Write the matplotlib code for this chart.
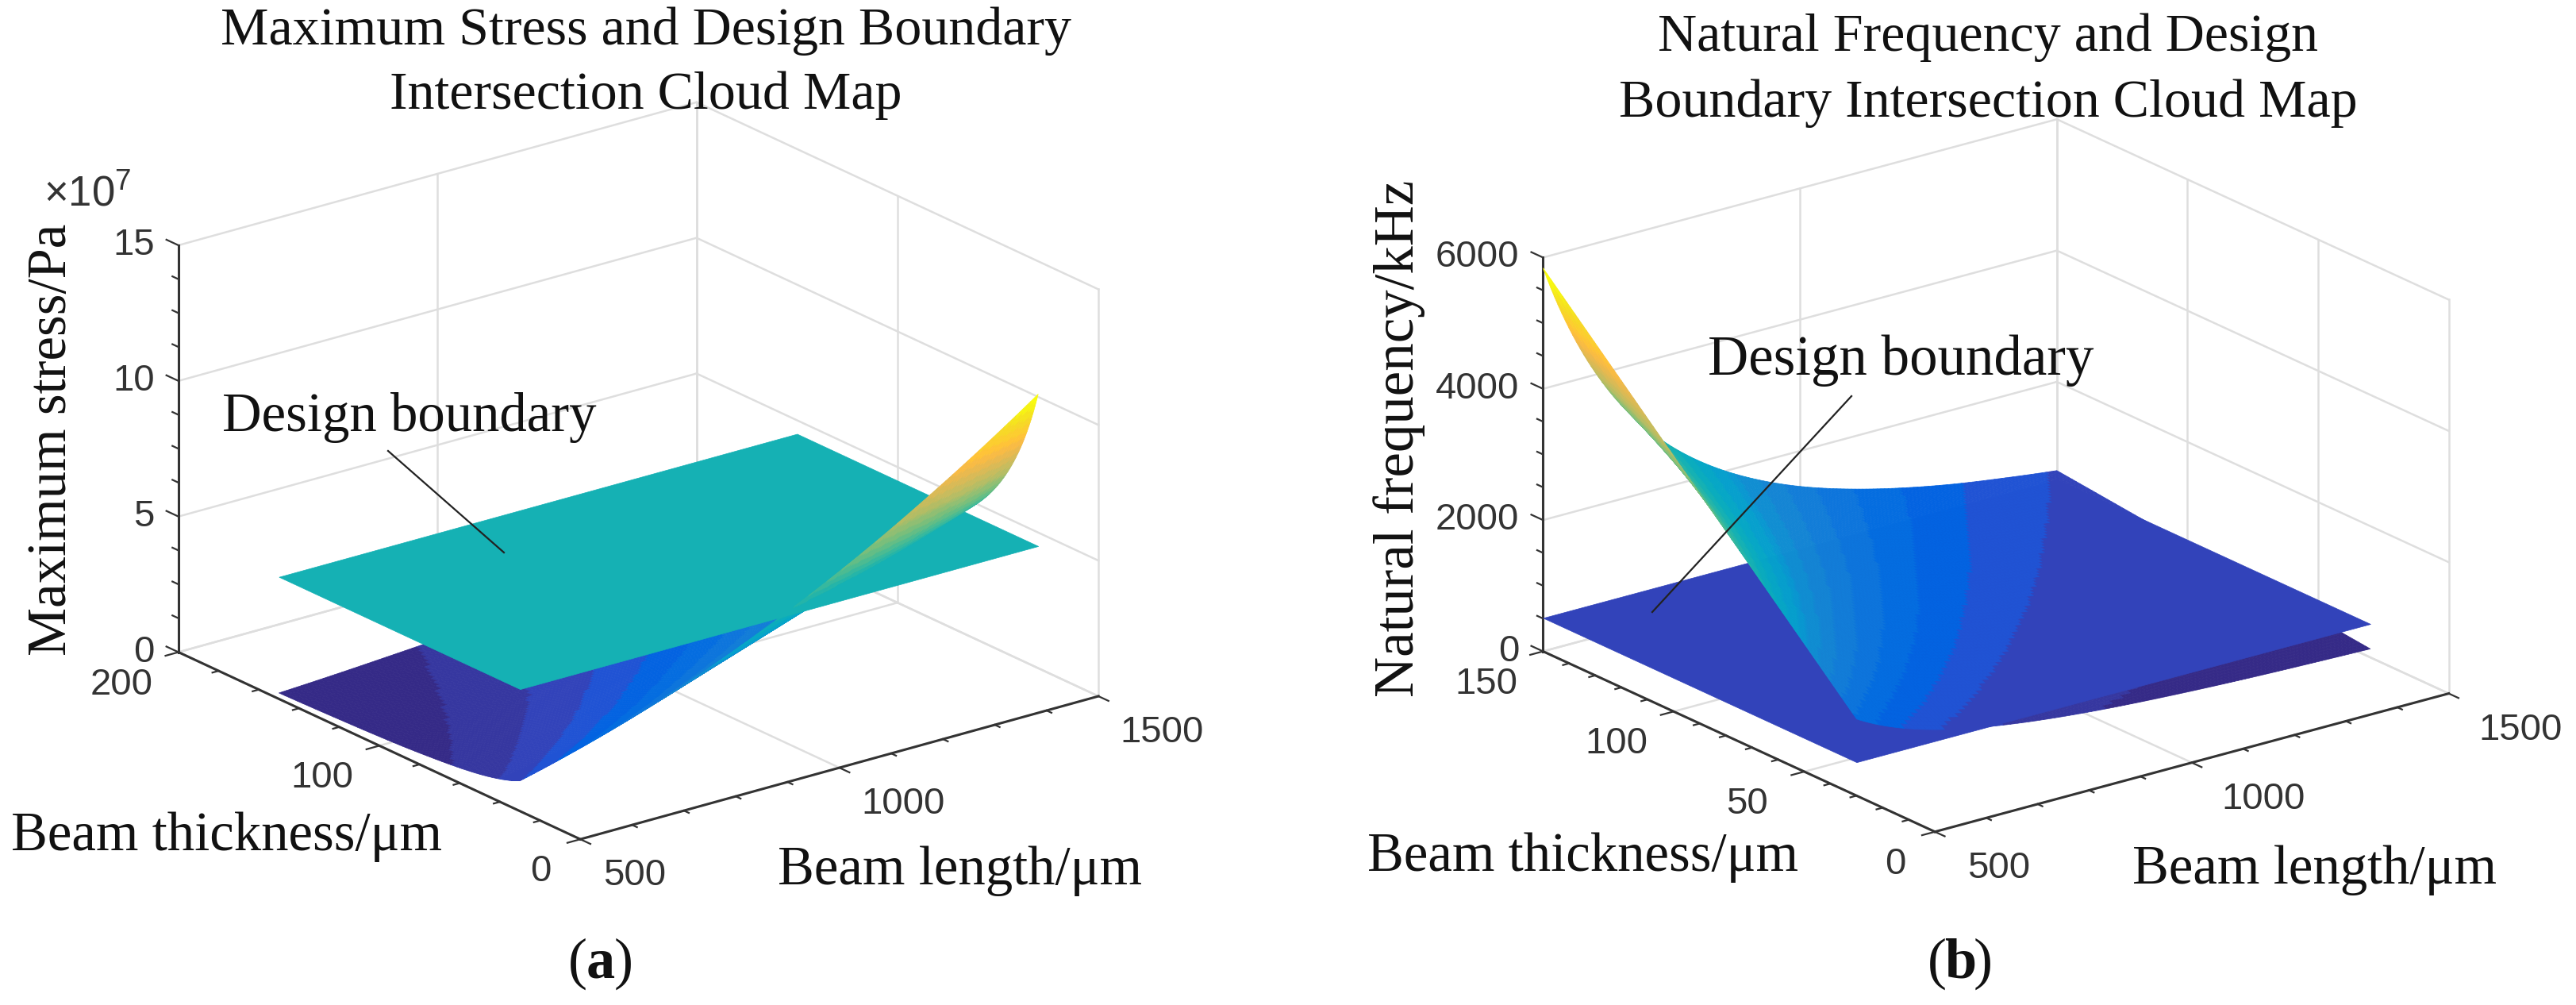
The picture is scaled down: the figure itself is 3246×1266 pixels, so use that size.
import numpy as np
import matplotlib
matplotlib.use("Agg")
import matplotlib.pyplot as plt
from matplotlib.colors import ListedColormap, Normalize
from matplotlib.lines import Line2D
from mpl_toolkits.mplot3d import proj3d
from mpl_toolkits.mplot3d.art3d import Poly3DCollection

plt.rcParams['mathtext.default'] = 'regular'

SERIF = 'Liberation Serif'
SANS = 'Liberation Sans'

# beam length in um, shared by both panels
length = [500, 600, 700, 800, 900, 1000, 1100, 1200, 1300, 1400, 1500]

# panel a: maximum stress, x10^7 Pa, one row per beam thickness
thick_a = [30, 35, 40, 50, 60, 75, 90, 120, 150]
stress = [
    [1.12, 1.62, 2.20, 2.87, 3.64, 4.49, 5.43, 6.46, 7.59, 8.80, 10.10],
    [0.96, 1.39, 1.89, 2.46, 3.12, 3.85, 4.66, 5.54, 6.50, 7.54, 8.66],
    [0.84, 1.21, 1.65, 2.15, 2.73, 3.37, 4.08, 4.85, 5.69, 6.60, 7.58],
    [0.67, 0.97, 1.32, 1.72, 2.18, 2.69, 3.26, 3.88, 4.55, 5.28, 6.06],
    [0.56, 0.81, 1.10, 1.43, 1.82, 2.24, 2.72, 3.23, 3.79, 4.40, 5.05],
    [0.45, 0.65, 0.88, 1.15, 1.45, 1.79, 2.17, 2.59, 3.03, 3.52, 4.04],
    [0.37, 0.54, 0.73, 0.96, 1.21, 1.50, 1.81, 2.16, 2.53, 2.94, 3.37],
    [0.28, 0.40, 0.55, 0.72, 0.91, 1.12, 1.36, 1.62, 1.90, 2.20, 2.53],
    [0.22, 0.32, 0.44, 0.57, 0.73, 0.90, 1.09, 1.29, 1.52, 1.76, 2.02],
]
boundary_a = 4.5

# panel b: natural frequency, kHz
thick_b = [30, 45, 60, 75, 90, 105, 120, 135, 150]
freq = [
    [1168, 811, 596, 457, 361, 292, 242, 203, 173, 150, 130],
    [1752, 1217, 894, 685, 541, 438, 362, 305, 259, 224, 195],
    [2336, 1622, 1191, 913, 722, 584, 483, 406, 346, 299, 259],
    [2920, 2027, 1489, 1142, 902, 730, 603, 508, 432, 374, 324],
    [3504, 2433, 1787, 1370, 1083, 876, 725, 610, 519, 449, 389],
    [4088, 2839, 2085, 1598, 1263, 1022, 846, 711, 605, 523, 454],
    [4672, 3244, 2383, 1827, 1444, 1168, 967, 813, 691, 598, 519],
    [5256, 3650, 2681, 2055, 1624, 1314, 1088, 915, 778, 673, 584],
    [5840, 4056, 2978, 2283, 1805, 1460, 1209, 1016, 864, 748, 648],
]
boundary_b = 510

# 64 levels like the matlab default, the bands on the surface come from this
parula = ListedColormap([
    (0.2081, 0.1663, 0.5292), (0.2123, 0.2138, 0.6270), (0.1959, 0.2645, 0.7279),
    (0.1253, 0.3242, 0.8303), (0.0117, 0.3875, 0.8820), (0.0165, 0.4266, 0.8786),
    (0.0498, 0.4586, 0.8641), (0.0723, 0.4887, 0.8467), (0.0793, 0.5200, 0.8312),
    (0.0641, 0.5570, 0.8240), (0.0343, 0.5966, 0.8199), (0.0239, 0.6287, 0.8038),
    (0.0228, 0.6535, 0.7768), (0.0384, 0.6743, 0.7436), (0.0843, 0.6928, 0.7062),
    (0.1453, 0.7098, 0.6646), (0.2178, 0.7250, 0.6193), (0.3022, 0.7376, 0.5712),
    (0.3953, 0.7459, 0.5244), (0.4871, 0.7491, 0.4840), (0.5709, 0.7485, 0.4494),
    (0.6473, 0.7456, 0.4188), (0.7184, 0.7411, 0.3905), (0.7858, 0.7356, 0.3633),
    (0.8507, 0.7299, 0.3360), (0.9139, 0.7258, 0.3063), (0.9739, 0.7314, 0.2666),
    (0.9990, 0.7653, 0.2164), (0.9880, 0.8066, 0.1794), (0.9697, 0.8481, 0.1475),
    (0.9589, 0.8949, 0.1132), (0.9661, 0.9514, 0.0755), (0.9763, 0.9831, 0.0538),
]).resampled(64)

W, H = 3246, 1266
fig = plt.figure(figsize=(W / 100, H / 100), dpi=100)


def fx(px):
    return px / W


def fy(py):
    return 1 - py / H


def clip_poly(poly, h, keep_above):
    # cut one facet at the boundary height
    out = []
    for i in range(len(poly)):
        a, b = poly[i], poly[(i + 1) % len(poly)]
        ina = (a[2] >= h) == keep_above
        inb = (b[2] >= h) == keep_above
        if ina:
            out.append(a)
        if ina != inb:
            t = (h - a[2]) / (b[2] - a[2])
            out.append(tuple(a[k] + t * (b[k] - a[k]) for k in range(3)))
    return out


def fine_mesh(xs, ys, zs, nx=14, ny=10):
    # same idea as matlab "shading interp", the table itself stays as read
    xf = np.concatenate([np.linspace(xs[i], xs[i + 1], nx, endpoint=False) for i in range(len(xs) - 1)] + [[xs[-1]]])
    yf = np.concatenate([np.linspace(ys[i], ys[i + 1], ny, endpoint=False) for i in range(len(ys) - 1)] + [[ys[-1]]])
    lz = np.log(np.array(zs, dtype=float))
    rows = np.array([np.interp(np.log(xf), np.log(xs), r) for r in lz])
    zf = np.array([np.interp(np.log(yf), np.log(ys), rows[:, j]) for j in range(len(xf))]).T
    return xf, yf, np.exp(zf)


def add_surface(ax, xs, ys, zs, h):
    xf, yf, zf = fine_mesh(xs, ys, zs)
    norm = Normalize(np.min(zs), np.max(zs))
    groups = {False: ([], []), True: ([], [])}
    for i in range(len(yf) - 1):
        for j in range(len(xf) - 1):
            quad = [(xf[j], yf[i], zf[i, j]), (xf[j + 1], yf[i], zf[i, j + 1]),
                    (xf[j + 1], yf[i + 1], zf[i + 1, j + 1]), (xf[j], yf[i + 1], zf[i + 1, j])]
            c = parula(norm(np.mean([p[2] for p in quad])))
            for above in (False, True):
                part = clip_poly(quad, h, above)
                if len(part) >= 3:
                    groups[above][0].append(part)
                    groups[above][1].append(c)
    for above, z in ((False, 3), (True, 5)):
        polys, cols = groups[above]
        coll = Poly3DCollection(polys, facecolors=cols, edgecolors=cols, linewidths=0.5, zorder=z)
        ax.add_collection3d(coll)
    plane = [[(xs[0], ys[0], h), (xs[-1], ys[0], h), (xs[-1], ys[-1], h), (xs[0], ys[-1], h)]]
    pc = parula(norm(h))
    ax.add_collection3d(Poly3DCollection(plane, facecolors=[pc], edgecolors=[pc], linewidths=0.5, zorder=4))


def label3d(ax, x, y, z, s, dx, dy, size=34, ha='center'):
    px, py, _ = proj3d.proj_transform(x, y, z, ax.get_proj())
    ax.annotate(s, xy=(px, py), xytext=(dx, dy), textcoords='offset pixels',
                annotation_clip=False, family=SANS, fontsize=size, color='#333333',
                ha=ha, va='center')


def make_panel(center, aspect, elev, azim, xt, yt, zt, xm, ym, zm, ylim, zlim):
    norm = np.linalg.norm(aspect)
    side = 1.85 * norm / (1.8294640721620434 * 25 / 24)
    left = center[0] - 0.95 / 1.85 * side
    bottom = center[1] + 0.95 / 1.85 * side
    ax = fig.add_axes([fx(left), fy(bottom), side / W, side / H], projection='3d',
                      proj_type='ortho', computed_zorder=False)
    ax.set_box_aspect(aspect)
    ax.view_init(elev=elev, azim=azim)
    ax.set_xlim(xt[0], xt[-1])
    ax.set_ylim(ylim)
    ax.set_zlim(zlim)
    ax.set_axis_off()
    ax.patch.set_visible(False)

    x0, x1 = xt[0], xt[-1]
    y0, y1 = ylim
    z0, z1 = zlim
    grey = dict(color='#dedede', lw=1.8, zorder=1)
    for x in xt:
        ax.plot([x, x], [y0, y1], [z0, z0], **grey)
        ax.plot([x, x], [y1, y1], [z0, z1], **grey)
    for y in yt:
        ax.plot([x0, x1], [y, y], [z0, z0], **grey)
        ax.plot([x1, x1], [y0 if y == y0 else y, y], [z0, z1], **grey)
    for z in zt:
        ax.plot([x0, x1], [y1, y1], [z, z], **grey)
        ax.plot([x1, x1], [y0, y1], [z, z], **grey)

    dark = dict(color='#333333', lw=2.2, zorder=2)
    ax.plot([x0, x1], [y0, y0], [z0, z0], **dark)
    ax.plot([x0, x0], [y0, y1], [z0, z0], **dark)
    ax.plot([x0, x0], [y1, y1], [z0, z1], **dark)
    thin = dict(color='#333333', lw=1.6, zorder=2)
    for t in xm:
        f = 0.025 if t in xt else 0.012
        ax.plot([t, t], [y0, y0 - f * (y1 - y0)], [z0, z0], **thin)
    for t in ym:
        f = 0.025 if t in yt else 0.012
        ax.plot([x0, x0 - f * (x1 - x0)], [t, t], [z0, z0], **thin)
    for t in zm:
        f = 0.03 if t in zt else 0.015
        ax.plot([x0, x0], [y1, y1 + f * (y1 - y0)], [t, t], **thin)
    return ax


def tick_text(ax, xt, yt, zt, ylim, xshift):
    for t, s in zip(xt, xshift):
        label3d(ax, t, ylim[0], 0, str(t), 80 + s, -46)
    for t in yt:
        label3d(ax, xt[0], t, 0, str(t), -50 if t == 0 else -72, -41)
    for t in zt:
        label3d(ax, xt[0], ylim[1], t, str(t), -30, 0, ha='right')


def serif_text(px, py, s, size=49.5, **kw):
    fig.text(fx(px), fy(py), s, family=SERIF, fontsize=size, color='#111111',
             ha=kw.pop('ha', 'center'), va='center', **kw)


def leader(x0, y0, x1, y1):
    fig.add_artist(Line2D([fx(x0), fx(x1)], [fy(y0), fy(y1)], color='#222222', lw=1.6, zorder=10))


def panel_tag(px, py, letter):
    serif_text(px - 17, py, '(', size=52, ha='right')
    serif_text(px, py, letter, size=52, fontweight='bold')
    serif_text(px + 17, py, ')', size=52, ha='left')


# panel a
xt_a, yt_a, zt_a = [500, 1000, 1500], [0, 100, 200], [0, 5, 10, 15]
ax_a = make_panel((804.5, 593), (824, 830, 549), 21, 232.4, xt_a, yt_a, zt_a,
                  list(range(500, 1501, 100)), list(range(0, 201, 20)),
                  [i * 1.25 for i in range(13)], (0, 200), (0, 15))
add_surface(ax_a, length, thick_a, stress, boundary_a)
tick_text(ax_a, xt_a, yt_a, zt_a, (0, 200), [-12, 0, 0])
label3d(ax_a, 500, 200, 15, r'$\times10^{7}$', -115, 64, size=38)

serif_text(814, 39, 'Maximum Stress and Design Boundary', size=49)
serif_text(814, 120, 'Intersection Cloud Map', size=49)
serif_text(66, 554, 'Maximum stress/Pa', rotation=90)
serif_text(286, 1054, 'Beam thickness/μm')
serif_text(1210, 1097, 'Beam length/μm')
serif_text(516, 526, 'Design boundary')
leader(489, 568, 635, 696)
panel_tag(757, 1214, 'a')

# panel b
xt_b, yt_b, zt_b = [500, 1000, 1500], [0, 50, 100, 150], [0, 2000, 4000, 6000]
ax_b = make_panel((2515, 599), (815, 813, 530), 20.6, 232.6, xt_b, yt_b, zt_b,
                  list(range(500, 1501, 100)), list(range(0, 151, 10)), list(range(0, 6001, 500)),
                  (0, 150), (0, 6000))
add_surface(ax_b, length, thick_b, freq, boundary_b)
tick_text(ax_b, xt_b, yt_b, zt_b, (0, 150), [0, 10, 10])

serif_text(2505, 47, 'Natural Frequency and Design', size=49)
serif_text(2505, 130, 'Boundary Intersection Cloud Map', size=49)
serif_text(1763, 552, 'Natural frequency/kHz', size=51, rotation=90)
serif_text(1995, 1080, 'Beam thickness/μm')
serif_text(2917, 1096, 'Beam length/μm')
serif_text(2395, 454, 'Design boundary', size=51)
leader(2333, 499, 2082, 771)
panel_tag(2470, 1214, 'b')

fig.savefig('out.png', dpi=100, facecolor='white')
